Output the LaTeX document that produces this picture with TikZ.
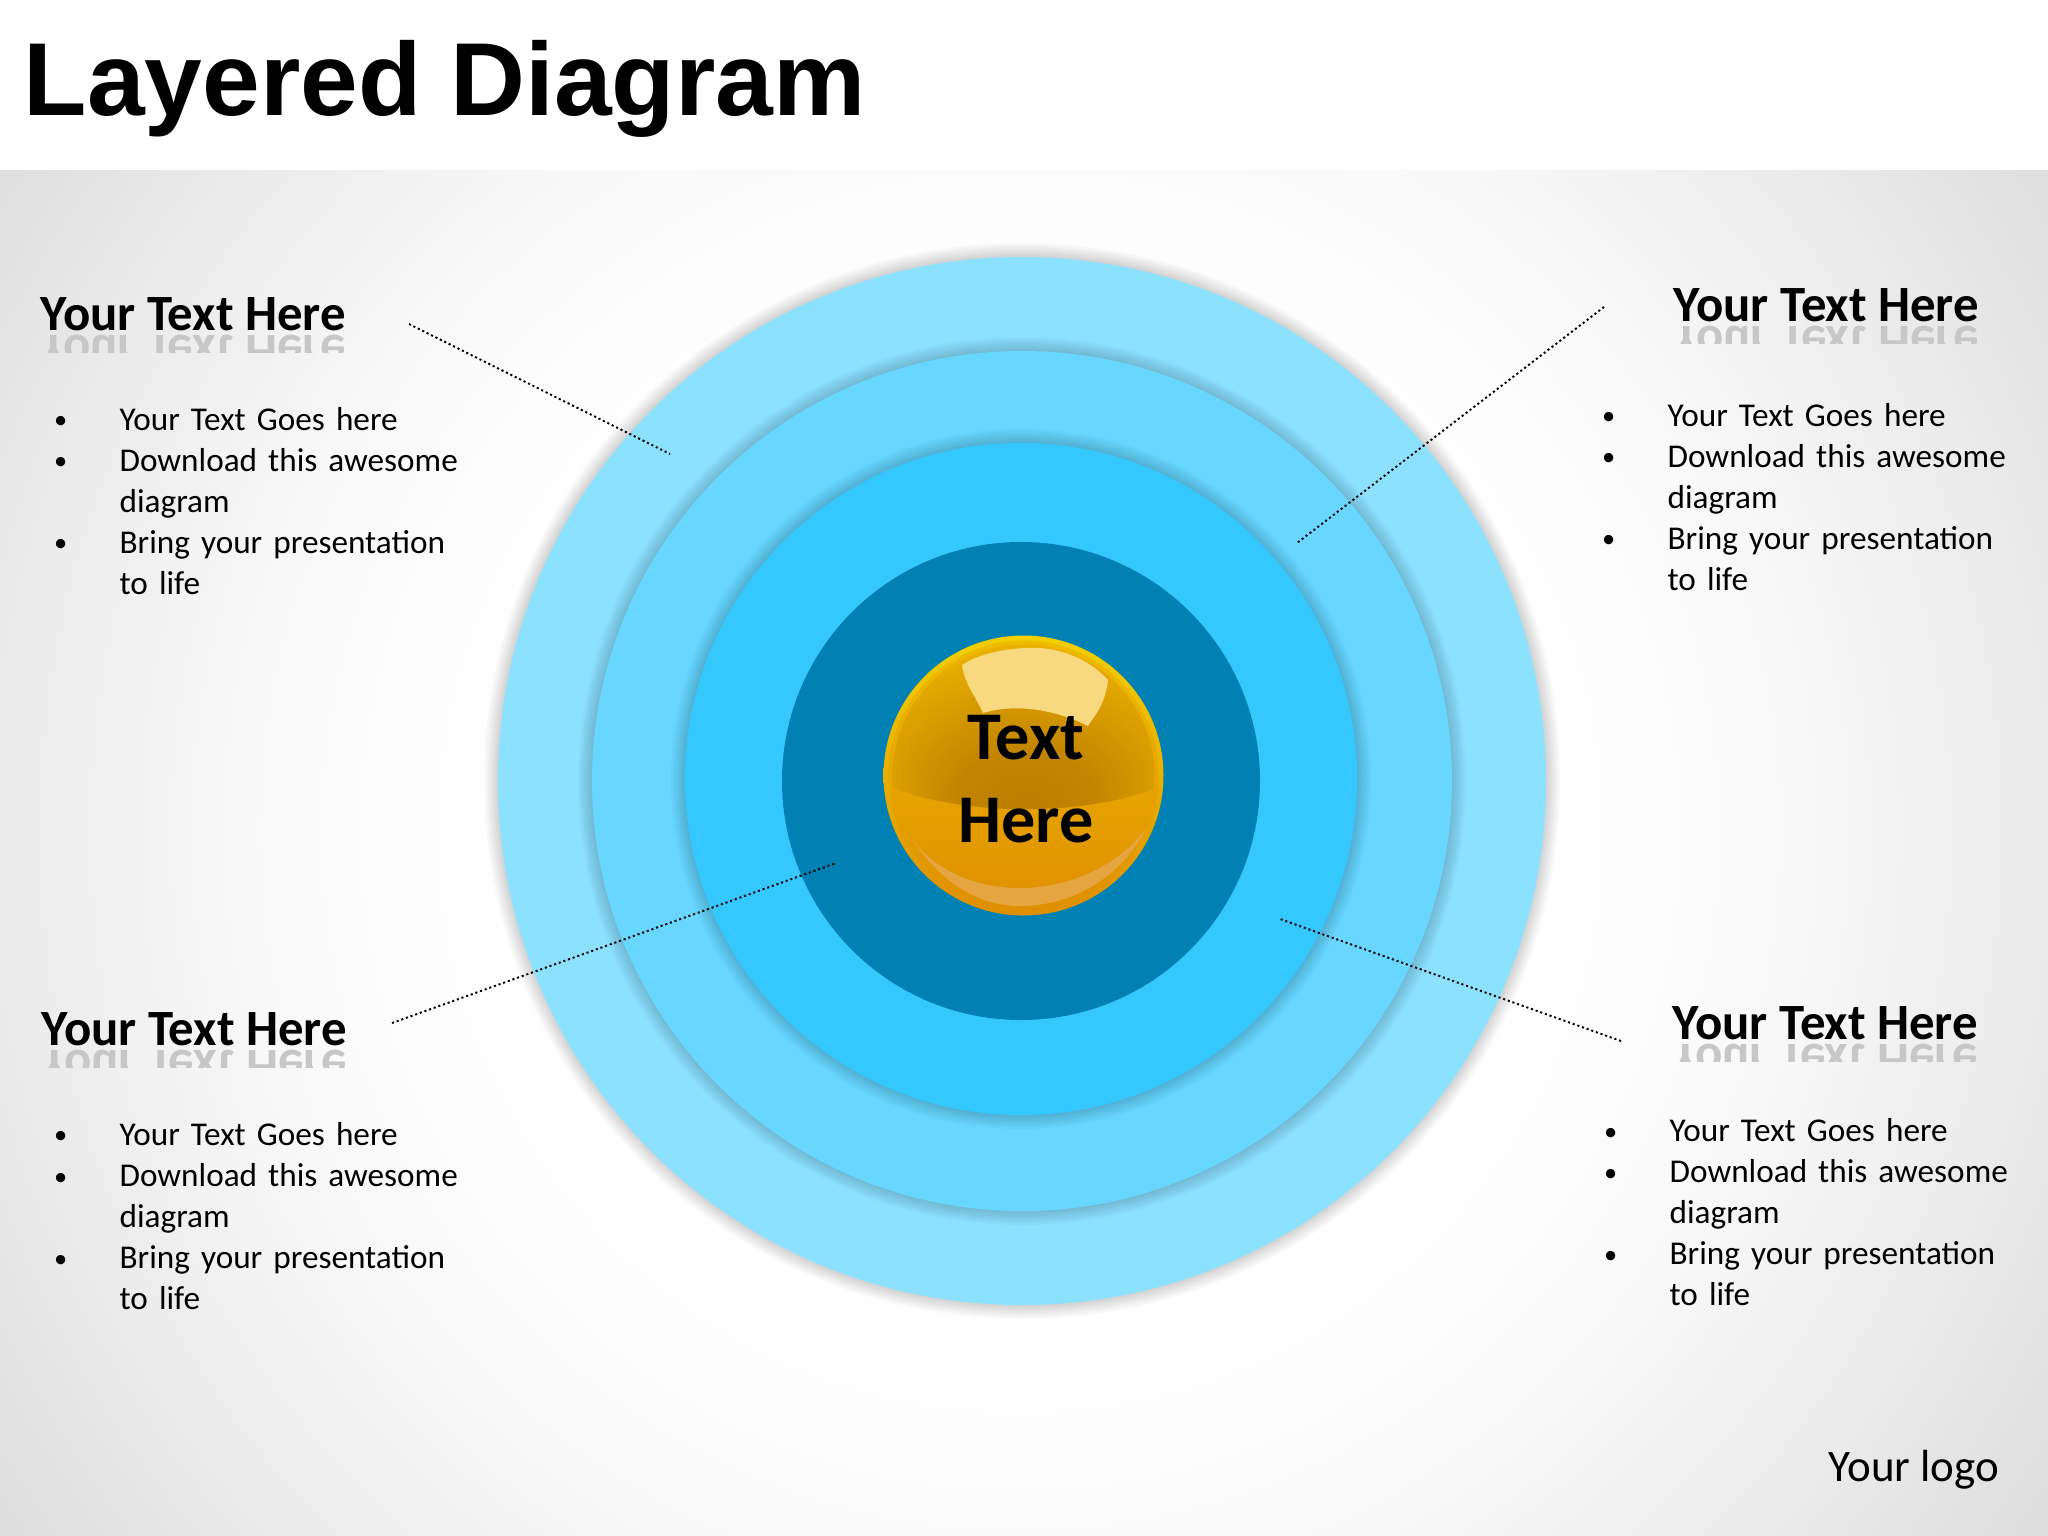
\documentclass[tikz,border=0pt]{standalone}
\usepackage{fontspec}
\setmainfont{Carlito}
\newfontfamily\titlefont{Liberation Sans}
\usetikzlibrary{positioning,fadings}
\definecolor{ringa}{HTML}{8CE1FF}
\definecolor{ringb}{HTML}{68D6FF}
\definecolor{ringc}{HTML}{35C8FF}
\definecolor{ringd}{HTML}{0080B3}
\definecolor{ballrim}{HTML}{F2D000}
\definecolor{balltop}{HTML}{EFBC00}
\definecolor{ballbot}{HTML}{DF8F00}
\definecolor{shine}{HTML}{F9D97F}
\definecolor{glow}{HTML}{E6A540}
\pgfdeclareradialshading{slidebg}{\pgfpoint{0bp}{0bp}}{color(0bp)=(white); color(10bp)=(white); color(13bp)=(black!1.5); color(15.4bp)=(black!3); color(18.3bp)=(black!6.5); color(22bp)=(black!11); color(25bp)=(black!14); color(50bp)=(black!14)}
\definecolor{domea}{HTML}{BC7C00}
\definecolor{domeb}{HTML}{EDB400}
\pgfdeclareradialshading{domeshade}{\pgfpoint{0bp}{-25bp}}{color(0bp)=(domea); color(12bp)=(domea!85!domeb); color(32bp)=(domeb); color(50bp)=(domeb)}
\newcommand{\smalldot}{\raisebox{0.5pt}{\fontsize{7.5}{8}\selectfont\textbullet}}
\newenvironment{dotlist}{\begin{list}{\smalldot}{\setlength{\leftmargin}{19.6pt}\setlength{\labelwidth}{5.1pt}\setlength{\labelsep}{14.9pt}\setlength{\itemsep}{0pt}\setlength{\parsep}{0pt}\setlength{\topsep}{0pt}\setlength{\partopsep}{0pt}\raggedright}}{\end{list}}
\tikzset{
    heading/.style={anchor=base west,inner sep=0pt,font=\fontsize{14.45}{16}\selectfont\bfseries},
    mirror/.style={anchor=base west,inner sep=0pt,yscale=-1,transform shape,text=black!22,font=\fontsize{14.45}{16}\selectfont\bfseries},
    blurb/.style={anchor=north west,inner sep=0pt,text width=118.6pt,font=\fontsize{9.45}{11.67}\selectfont},
    link/.style={draw=black,line width=0.55pt,dash pattern=on 0.6pt off 0.8pt},
    ring/.style={fill=#1},
}
\newcommand{\softedge}[2]{\foreach \w in {2,4,6,8,10,12,14} {\fill[black,opacity=0.024] (#1) circle [radius=#2+\w];}}
\begin{document}
\begin{tikzpicture}[x=0.01cm,y=-0.01cm]
    \useasboundingbox (0,0) rectangle (2048,1536);
    \fill[white] (0,0) rectangle (2048,170);
    \begin{scope}
        \clip (0,170) rectangle (2048,1536);
        \path[shading=slidebg] (1020,830) circle [radius=1300];
    \end{scope}
    \node[anchor=base west,inner sep=0pt,font=\fontsize{29.5}{32}\selectfont\titlefont\bfseries] (title) at (23,115) {Layered Diagram};
    % rings
    \coordinate (mid) at (1022,781);
    \softedge{mid}{524}
    \fill[ring=ringa] (mid) circle [radius=524];
    \softedge{mid}{430}
    \fill[ring=ringb] (mid) circle [radius=430];
    \coordinate (midc) at (1021,779);
    \softedge{midc}{336}
    \fill[ring=ringc] (midc) circle [radius=336];
    \fill[ring=ringd] (1021,781) circle [radius=239];
    % ball
    \coordinate (ballmid) at (1023.5,775.5);
    \shade[top color=ballrim,bottom color=ballbot] (ballmid) circle [radius=140];
    \shade[top color=balltop,bottom color=ballbot] (ballmid) circle [radius=135];
    \begin{scope}
        \clip (ballmid) circle [radius=131];
        \path[shading=domeshade] (880,783) .. controls (960,818) and (1090,818) .. (1170,783) -- (1170,630) -- (880,630) -- cycle;
    \end{scope}
    \fill[shine] (962,665) .. controls (985,650) and (1020,647) .. (1040,648) .. controls (1070,650) and (1095,665) .. (1108,680) .. controls (1105,705) and (1095,715) .. (1088,726) .. controls (1060,712) and (1020,702) .. (983,713) .. controls (975,695) and (965,685) .. (962,665) -- cycle;
    \fill[glow] (906,830) .. controls (940,885) and (980,906) .. (1020,906) .. controls (1070,906) and (1120,880) .. (1147,827) .. controls (1120,865) and (1070,888) .. (1020,888) .. controls (975,888) and (930,870) .. (906,830) -- cycle;
    \node[align=center,inner sep=0pt,font=\fontsize{19.4}{23.4}\selectfont\bfseries] (core) at (1026,779) {Text\\Here};
    % headings
    \node[heading] (heada) at (40,330) {Your Text Here};
    \node[heading] (headb) at (1673,321) {Your Text Here};
    \node[heading] (headc) at (41,1045) {Your Text Here};
    \node[heading] (headd) at (1672,1039) {Your Text Here};
    \foreach \x/\y in {40/330,1673/321,41/1045,1672/1039} {
        \begin{scope}[scope fading=south,fading transform={shift={(\x+160,\y+14)},yscale=0.1,xscale=1.2}]
            \clip (\x-5,\y+4) rectangle (\x+320,\y+22);
            \node[mirror] at (\x,\y+5) {Your Text Here};
        \end{scope}
    }
    % lists
    \node[blurb] (lista) at (50,388.5) {\begin{dotlist}\item Your Text Goes here \item Download this awesome diagram \item Bring your presentation to life\end{dotlist}};
    \node[blurb] (listb) at (1598,384.5) {\begin{dotlist}\item Your Text Goes here \item Download this awesome diagram \item Bring your presentation to life\end{dotlist}};
    \node[blurb] (listc) at (50,1104) {\begin{dotlist}\item Your Text Goes here \item Download this awesome diagram \item Bring your presentation to life\end{dotlist}};
    \node[blurb] (listd) at (1600,1100) {\begin{dotlist}\item Your Text Goes here \item Download this awesome diagram \item Bring your presentation to life\end{dotlist}};
    \node[anchor=base east,inner sep=0pt,font=\fontsize{12.8}{14}\selectfont] (logo) at (2000,1481) {Your logo};
    % connectors
    \coordinate (aa) at (409,324);
    \coordinate (ab) at (670,454);
    \coordinate (ba) at (1604,307);
    \coordinate (bb) at (1297,543);
    \coordinate (ca) at (392,1023);
    \coordinate (cb) at (836,863);
    \coordinate (da) at (1621,1041);
    \coordinate (db) at (1280,919);
    \draw[link] (aa) -- (ab);
    \draw[link] (ba) -- (bb);
    \draw[link] (ca) -- (cb);
    \draw[link] (da) -- (db);
\end{tikzpicture}
\end{document}
